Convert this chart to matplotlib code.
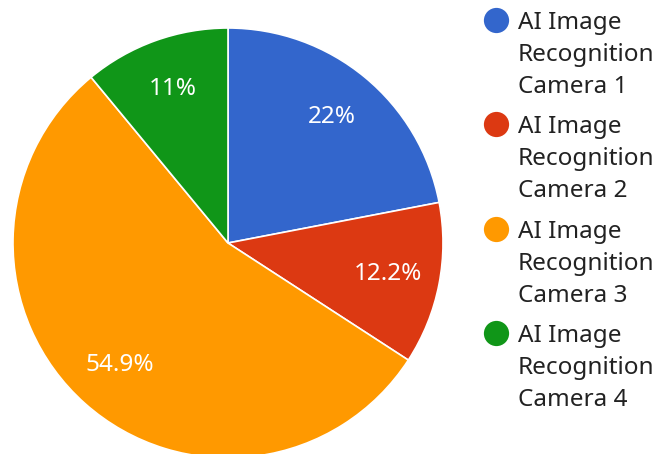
import matplotlib
matplotlib.use("Agg")
import matplotlib.pyplot as plt
import numpy as np

categories = ["AI Image\nRecognition\nCamera 1", "AI Image\nRecognition\nCamera 2",
              "AI Image\nRecognition\nCamera 3", "AI Image\nRecognition\nCamera 4"]
values = [22.0, 12.2, 54.9, 11.0]
pct_labels = ["22%", "12.2%", "54.9%", "11%"]
colors = ["#3366cc", "#dc3912", "#ff9900", "#109618"]

plt.rcParams['font.family'] = ['Noto Sans', 'DejaVu Sans']

W, H = 658, 454
fig = plt.figure(figsize=(W / 100, H / 100), dpi=100)
ax = fig.add_axes([0, 0, 1, 1])

cx, cy, R = 228, H - 243, 215
wedges, _ = ax.pie(values, colors=colors, startangle=90, counterclock=False,
                   radius=R, center=(cx, cy), frame=True,
                   wedgeprops=dict(edgecolor='white', linewidth=1.2))
ax.set_xlim(0, W)
ax.set_ylim(0, H)
ax.set_aspect('equal')
ax.axis('off')

total = sum(values)
cum = 0
for v, lab in zip(values, pct_labels):
    mid = (cum + v / 2) / total * 360
    cum += v
    ang = np.deg2rad(90 - mid)
    x = cx + 0.76 * R * np.cos(ang)
    y = cy + 0.76 * R * np.sin(ang)
    ax.text(x, y, lab, color='white', fontsize=17.5, ha='center', va='center')

# legend
for i, (cat, col) in enumerate(zip(categories, colors)):
    y0 = H - 20 - i * 104.3
    ax.scatter([496], [y0], s=330, color=col, zorder=3, linewidths=0)
    for j, line in enumerate(cat.split("\n")):
        ax.text(518, y0 - 32 * j, line, fontsize=17.5, ha='left', va='center_baseline',
                color='#222222')

fig.savefig("out.png", dpi=100)
